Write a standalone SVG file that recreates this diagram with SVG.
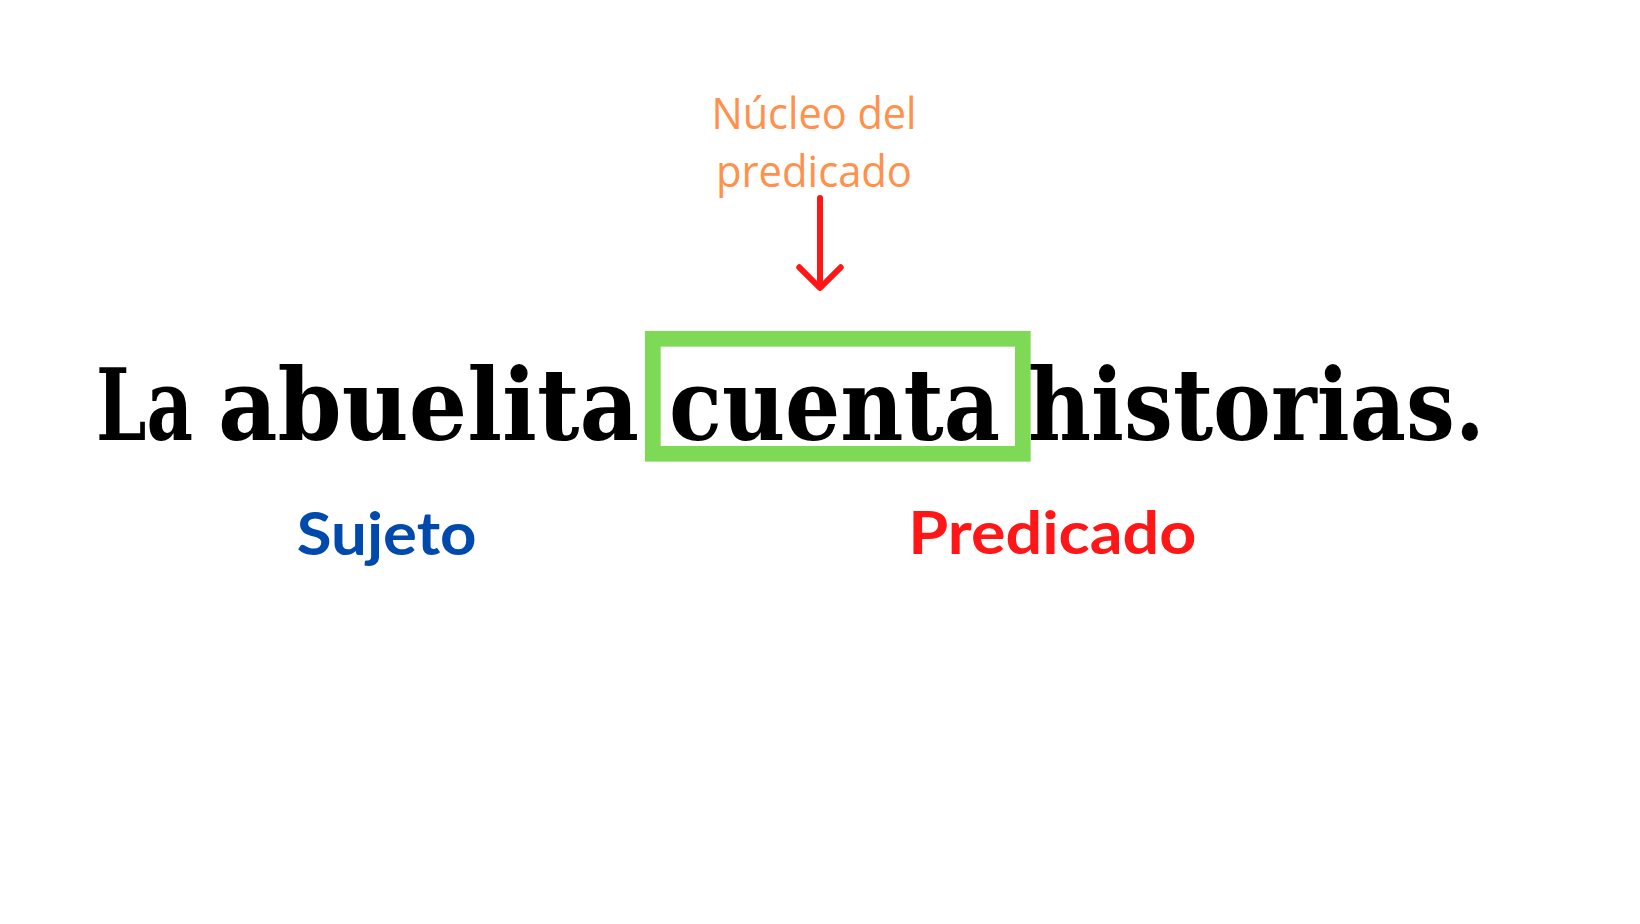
<svg xmlns="http://www.w3.org/2000/svg" width="1640" height="924" viewBox="0 0 1640 924">
  <style>
    .sent { font-family: "DejaVu Serif", "Liberation Serif", serif; font-weight: bold; font-size: 100px; fill: #000000; }
    .note { font-family: "Open Sans", "Noto Sans", sans-serif; font-size: 44px; fill: #FF914D; }
    .lbl { font-family: Lato, "Open Sans", sans-serif; font-weight: bold; font-size: 59px; }
    .arrow { fill: none; stroke: #FF1616; stroke-width: 6; stroke-linecap: round; stroke-linejoin: round; }
  </style>
  <rect width="1640" height="924" fill="#ffffff"/>
  <g id="nucleo-label">
    <text class="note" x="814" y="129.3" text-anchor="middle" textLength="205" lengthAdjust="spacingAndGlyphs">Núcleo del</text>
    <text class="note" x="814" y="186.7" text-anchor="middle" textLength="196" lengthAdjust="spacingAndGlyphs">predicado</text>
  </g>
  <g id="connectors">
    <line class="arrow" x1="820" y1="198" x2="820" y2="286"/>
    <polyline class="arrow" points="799.3,267.3 820,288 840.7,267.3"/>
  </g>
  <g id="nucleo-box">
    <rect x="652.8" y="338.8" width="370" height="115" fill="none" stroke="#7ED957" stroke-width="15.7"/>
  </g>
  <g id="sentence">
    <text class="sent" x="96" y="440" textLength="97" lengthAdjust="spacingAndGlyphs">La</text>
    <text class="sent" x="218" y="440" textLength="421" lengthAdjust="spacingAndGlyphs">abuelita</text>
    <text class="sent" x="669" y="440" textLength="331" lengthAdjust="spacingAndGlyphs">cuenta</text>
    <text class="sent" x="1028" y="440" textLength="457" lengthAdjust="spacingAndGlyphs">historias.</text>
  </g>
  <g id="sujeto">
    <text class="lbl" x="296.7" y="555" fill="#004AAD" textLength="180" lengthAdjust="spacingAndGlyphs">Sujeto</text>
  </g>
  <g id="predicado">
    <text class="lbl" x="908.3" y="554.3" fill="#FF1616" textLength="288" lengthAdjust="spacingAndGlyphs">Predicado</text>
  </g>
</svg>
